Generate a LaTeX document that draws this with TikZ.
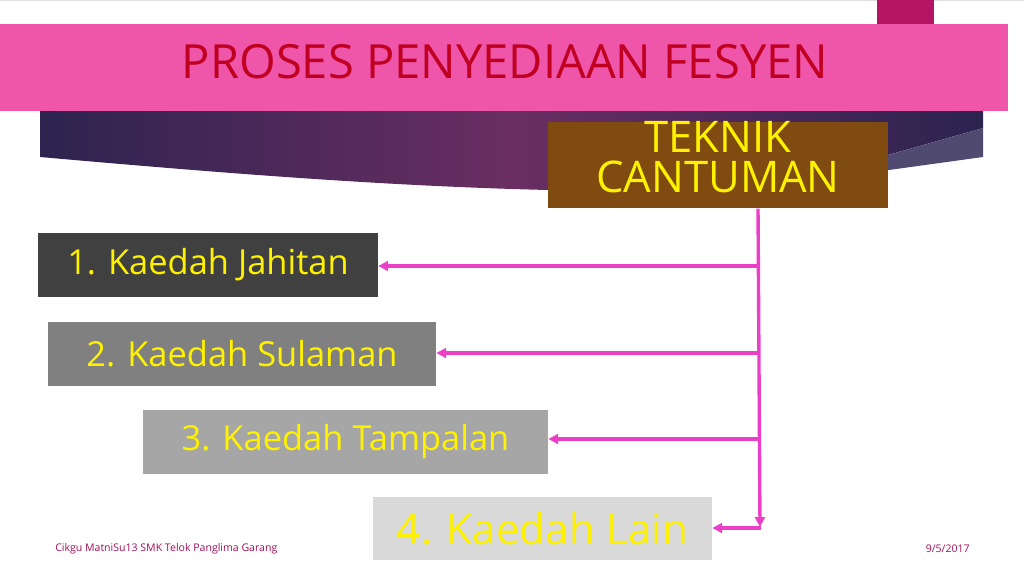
\documentclass[tikz,border=0pt]{standalone}
\usepackage{fontspec}
\setmainfont{Open Sans}
\usepackage{tikz}
\usetikzlibrary{positioning, arrows.meta}

\definecolor{pinkbar}{HTML}{EF55A8}
\definecolor{tabmag}{HTML}{B41464}
\definecolor{titlered}{HTML}{C00020}
\definecolor{bandleft}{HTML}{2D2350}
\definecolor{bandmid}{HTML}{6A2E62}
\definecolor{bandright}{HTML}{2B2350}
\definecolor{wedge}{HTML}{504A70}
\definecolor{brownbox}{HTML}{7F4B10}
\definecolor{linkmag}{HTML}{EC3FC8}
\definecolor{footmag}{HTML}{A0105C}

\tikzset{
    kaedah/.style={rectangle, inner sep=0pt, minimum height=1.6cm, text=yellow,
        font=\fontsize{24.5}{26}\selectfont},
    link/.style={draw=linkmag, line width=2.4pt},
    tip/.style={-{Triangle[length=7pt, width=7pt]}},
    footer/.style={text=footmag, font=\fontsize{7.5}{9}\selectfont, inner sep=0pt}
}

\begin{document}
\begin{tikzpicture}[x=0.025cm, y=-0.025cm]
            \useasboundingbox (0, 0) rectangle (1024, 576);
            \fill[white] (0, 0) rectangle (1024, 576);
            \draw[gray!25, line width=1pt] (0, 0.5) -- (1024, 0.5);

            % header
            \fill[tabmag] (877, 0) rectangle (934, 25);
            \shade[left color=bandleft, right color=bandright, middle color=bandmid]
                (40, 111) -- (983, 111) -- (983, 128) -- (888, 155) -- (548, 190)
                .. controls (380, 186) and (210, 172) .. (40, 157) -- cycle;
            \fill[wedge] (983, 128) -- (983, 157) -- (860, 174) -- (860, 163) -- cycle;
            \fill[pinkbar] (0, 24) rectangle (1008, 111);
            \node[text=titlered, font=\fontsize{33.5}{36}\selectfont] (title) at (505, 62)
                {PROSES PENYEDIAAN FESYEN};

            \node[rectangle, fill=brownbox, text=yellow, align=center, inner sep=0pt,
                minimum width=8.5cm, minimum height=2.15cm, text depth=11pt,
                font=\fontsize{31}{28.5}\selectfont] (teknik) at (718, 165)
                {TEKNIK\\CANTUMAN};

            \node[kaedah, fill=black!75, minimum width=8.5cm] (jahitan) at (208, 265)
                {1. Kaedah Jahitan};
            \node[kaedah, fill=black!50, minimum width=9.7cm] (sulaman) at (242, 354)
                {2. Kaedah Sulaman};
            \node[kaedah, fill=black!35, minimum width=10.125cm] (tampalan) at (345.5, 442)
                {3. Kaedah Tampalan};
            \node[kaedah, fill=black!15, minimum width=8.475cm, minimum height=1.575cm,
                font=\fontsize{30}{32}\selectfont] (lain) at (542.5, 528.5)
                {4. Kaedah Lain};

            % connectors
            \coordinate (vtop) at ([xshift=1cm]teknik.south);
            \coordinate (vbot) at (760, 527);
            \coordinate (c1) at (760, 266);
            \coordinate (c2) at (760, 353);
            \coordinate (c3) at (760, 439);
            \coordinate (c4) at (761, 528);

            \draw[link, tip] (vtop) -- (vbot);
            \draw[link, tip] (c1) -- (c1 -| jahitan.east);
            \draw[link, tip] (c2) -- (c2 -| sulaman.east);
            \draw[link, tip] (c3) -- (c3 -| tampalan.east);
            \draw[link, tip] (c4) -- (c4 -| lain.east);

            % footer
            \node[footer, anchor=west] (author) at (55, 549)
                {Cikgu MatniSu13 SMK Telok Panglima Garang};
            \node[footer, anchor=east] (date) at (970, 549) {9/5/2017};
        \end{tikzpicture}
\end{document}
